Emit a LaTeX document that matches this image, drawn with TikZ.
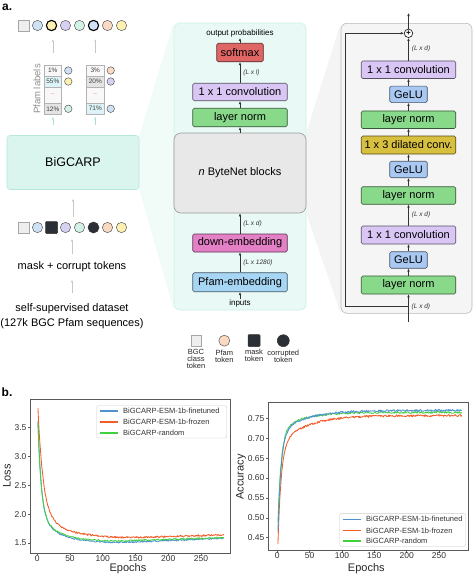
\documentclass[tikz,border=0pt]{standalone}
\usepackage{fontspec}
\setmainfont{Liberation Sans}
\usepackage{xcolor}
\usepackage{tikz}
\usetikzlibrary{arrows.meta,positioning,backgrounds}

\definecolor{panelmint}{HTML}{E9F9F5}
\definecolor{panelmintline}{HTML}{CDEFE6}
\definecolor{funnelmint}{HTML}{F1FBF8}
\definecolor{bigcfill}{HTML}{D9F5EE}
\definecolor{bigcline}{HTML}{B6E9DB}
\definecolor{netgray}{HTML}{E8E8E8}
\definecolor{panelgray}{HTML}{F5F5F5}
\definecolor{funnelgray}{HTML}{F4F4F4}
\definecolor{softred}{HTML}{E06666}
\definecolor{convlav}{HTML}{D9C6F5}
\definecolor{normgreen}{HTML}{88D98A}
\definecolor{gelublue}{HTML}{A9C8F2}
\definecolor{dilmust}{HTML}{D7BF3F}
\definecolor{downpink}{HTML}{E380C6}
\definecolor{embblue}{HTML}{A7D6F5}
\definecolor{tokgray}{HTML}{EEEEEE}
\definecolor{tokblue}{HTML}{CFE2F5}
\definecolor{tokyel}{HTML}{FDF0B0}
\definecolor{tokpur}{HTML}{D8D0F2}
\definecolor{tokgrn}{HTML}{D2F1E7}
\definecolor{tokpch}{HTML}{FAD9C3}
\definecolor{tokdark}{HTML}{2B2F36}
\definecolor{cellcyan}{HTML}{DCF4F8}
\definecolor{cellgray}{HTML}{E4E4E4}
\definecolor{cellwhite}{HTML}{F8F8F8}
\definecolor{mintarrow}{HTML}{A6DFCF}
\definecolor{finecol}{HTML}{4F92CF}
\definecolor{frozcol}{HTML}{F25C29}
\definecolor{randcol}{HTML}{40D040}

\begin{document}
\begin{tikzpicture}[
    x=1pt, y=-1pt,
    blk/.style={draw=#1!40!black, fill=#1, rounded corners=1.5pt, inner sep=0pt, line width=0.6pt, font=\fontsize{11}{12}\selectfont},
    wide/.style={blk=#1, minimum width=94.5pt, minimum height=17.5pt},
    gelu/.style={blk=gelublue, minimum width=37.5pt, minimum height=16.5pt},
    arrow/.style={-{Latex[length=3pt,width=2.6pt]}, draw=black!80, line width=0.7pt},
    dim/.style={right, xshift=3pt, inner sep=0pt, font=\fontsize{6.5}{7}\selectfont\itshape, text=black!80},
    tok/.style={circle, draw=black!65, fill=#1, minimum size=10.3pt, inner sep=0pt, line width=0.5pt},
    boldtok/.style={draw=black, line width=1.1pt},
    sqtok/.style={draw=black!35, fill=#1, minimum size=10.5pt, inner sep=0pt, line width=0.5pt},
    lbltok/.style={tok=#1, minimum size=7.5pt},
    lblcell/.style={draw=black!30, fill=#1, minimum width=17.7pt, inner sep=0pt, line width=0.5pt, font=\fontsize{6.5}{7}\selectfont, text=black!75},
    garrow/.style={-{Latex[length=2.5pt,width=2.2pt]}, draw=black!22, line width=0.5pt},
    marrow/.style={garrow, draw=mintarrow},
    txt/.style={inner sep=1pt, font=\fontsize{11}{15}\selectfont, align=center},
    smalltxt/.style={inner sep=1pt, font=\fontsize{8}{9}\selectfont},
    keytxt/.style={inner sep=0pt, align=center, font=\fontsize{7.5}{7}\selectfont, text=black!85},
    axbox/.style={draw=black!65, line width=0.6pt, inner sep=0pt},
    axtick/.style={draw=black!65, line width=0.5pt},
    ticklbl/.style={inner sep=1pt, font=\fontsize{8.5}{9}\selectfont, text=black!80},
    axlbl/.style={inner sep=0pt, font=\fontsize{11}{12}\selectfont, text=black!85},
    legbox/.style={draw=black!20, fill=white, rounded corners=2pt, inner sep=0pt},
    legtxt/.style={anchor=west, inner sep=0pt, font=\fontsize{7.5}{8}\selectfont, text=black!80},
    trace/.style={draw=#1, line width=0.85pt, line join=round},
    legline/.style={draw=#1, line width=1.3pt},
    panel/.style={font=\bfseries\fontsize{12}{14}\selectfont, inner sep=0pt, anchor=north west}
]
\useasboundingbox (0,0) rectangle (474,576);
\pgfmathsetseed{7}

\node[panel] (pa) at (2,3.5) {a.};
\node[panel] (pb) at (1.5,388) {b.};

% --- BiGCARP overview ---
\node[sqtok=tokgray] (a0) at (23.5,25.5) {};
\node[tok=tokblue] (a1) at (37.5,25.5) {};
\node[tok=tokyel, boldtok] (a2) at (51.5,25.5) {};
\node[tok=tokpur] (a3) at (65.5,25.5) {};
\node[tok=tokgrn] (a4) at (79.5,25.5) {};
\node[tok=tokblue, boldtok] (a5) at (93.5,25.5) {};
\node[tok=tokpch] (a6) at (107.5,25.5) {};
\node[tok=tokyel] (a7) at (121.5,25.5) {};

\node[rotate=90, inner sep=0pt, text=black!45, font=\fontsize{9.5}{10}\selectfont] (plab) at (37,89) {Pfam labels};

\node[lblcell=cellwhite, minimum height=11pt] (l1) at (52.8,70.5) {1\%};
\node[lblcell=cellcyan, minimum height=11pt] (l2) at (52.8,81.5) {55\%};
\node[lblcell=cellwhite, minimum height=16pt, text=red!45] (l3) at (52.8,95) {--};
\node[lblcell=cellgray, minimum height=11.5pt] (l4) at (52.8,108.75) {12\%};
\node[lblcell=cellwhite, minimum height=11pt] (r1) at (95.3,70.5) {3\%};
\node[lblcell=cellgray, minimum height=11pt] (r2) at (95.3,81.5) {20\%};
\node[lblcell=cellwhite, minimum height=16pt, text=red!45] (r3) at (95.3,95) {--};
\node[lblcell=cellcyan, minimum height=11.5pt] (r4) at (95.3,108.75) {71\%};

\node[lbltok=tokblue] (lc1) at (68.3,70.5) {};
\node[lbltok=tokyel] (lc2) at (68.3,81.5) {};
\node[lbltok=tokgrn] (lc4) at (68.3,108.75) {};
\node[lbltok=tokpch] (rc1) at (110.7,70.5) {};
\node[lbltok=tokpur] (rc2) at (110.7,81.5) {};
\node[lbltok=tokblue] (rc4) at (110.7,108.75) {};

\node[draw=bigcline, fill=bigcfill, rounded corners=3pt, line width=0.6pt, minimum width=132pt, minimum height=54pt, font=\fontsize{12.5}{14}\selectfont] (bigc) at (73,162.5) {BiGCARP};

\node[sqtok=tokgray] (b0) at (23.5,227.5) {};
\node[tok=tokblue] (b1) at (37.5,227.5) {};
\node[sqtok=tokdark, draw=black!80, minimum size=12pt, rounded corners=1pt] (b2) at (51.5,227.5) {};
\node[tok=tokpur] (b3) at (65.5,227.5) {};
\node[tok=tokgrn] (b4) at (79.5,227.5) {};
\node[tok=tokdark, draw=black!80, minimum size=11pt] (b5) at (93.5,227.5) {};
\node[tok=tokpch] (b6) at (107.5,227.5) {};
\node[tok=tokyel] (b7) at (121.5,227.5) {};

\node[txt] (mask) at (72,266.5) {mask + corrupt tokens};
\node[txt] (data) at (72,316) {self-supervised dataset\\(127k BGC Pfam sequences)};

\draw[garrow, shorten <=9pt, shorten >=7pt] (data) -- (mask);
\draw[garrow, shorten <=6pt, shorten >=6pt] (mask) -- (mask |- b0.south);
\draw[garrow, shorten <=5pt, shorten >=9pt] (bigc |- b0.north) -- (bigc);
\draw[marrow, shorten <=10pt, shorten >=2pt] (l4 |- bigc.north) -- (l4);
\draw[marrow, shorten <=10pt, shorten >=2pt] (r4 |- bigc.north) -- (r4);
\draw[garrow, shorten <=12pt, shorten >=8pt] (l1) -- (l1 |- a2.south);
\draw[garrow, shorten <=12pt, shorten >=8pt] (r1) -- (r1 |- a5.south);

% --- BiGCARP model ---
\node[draw=panelmintline, fill=panelmint, rounded corners=6pt, line width=0.6pt, minimum width=132pt, minimum height=287pt, inner sep=0pt] (mid) at (240,166.5) {};
\node[draw=black!40, fill=netgray, rounded corners=7pt, line width=0.6pt, minimum width=132pt, minimum height=80pt, inner sep=0pt, font=\fontsize{11}{12}\selectfont] (bnet) at (240,173) {\textit{n} ByteNet blocks};

\node[smalltxt] (outp) at (240,33) {output probabilities};
\node[blk=softred, minimum width=46.5pt, minimum height=18.5pt] (soft) at (240,52.5) {softmax};
\node[wide=convlav] (conv) at (240,92) {1 x 1 convolution};
\node[wide=normgreen, minimum height=18.5pt] (lnorm) at (240,117.5) {layer norm};
\node[wide=downpink, minimum height=18pt] (down) at (240,243) {down-embedding};
\node[wide=embblue, minimum height=19pt] (pemb) at (240,282.2) {Pfam-embedding};
\node[smalltxt] (inp) at (240,303.5) {inputs};

\draw[arrow] (inp) -- (pemb);
\draw[arrow] (pemb) -- node[dim] (dm1) {(L x 1280)} (down);
\draw[arrow] (down) -- node[dim] (dm2) {(L x d)} (bnet);
\draw[arrow] (bnet) -- (lnorm);
\draw[arrow] (lnorm) -- (conv);
\draw[arrow] (conv) -- node[dim] (dm3) {(L x l)} (soft);
\draw[arrow] (soft) -- (outp);

% --- ByteNet block ---
\node[draw=black!28, fill=panelgray, rounded corners=6pt, line width=0.6pt, minimum width=131pt, minimum height=290pt, inner sep=0pt] (rp) at (406.5,168.3) {};

\begin{pgfonlayer}{background}
\fill[funnelmint] (bigc.north east) -- (mid.north west) -- (mid.south west) -- (bigc.south east) -- cycle;
\fill[funnelgray] (bnet.north east) -- (rp.north west) -- (rp.south west) -- (bnet.south east) -- cycle;
\end{pgfonlayer}

\node[circle, draw=black!85, fill=white, line width=0.7pt, minimum size=8.5pt, inner sep=0pt, font=\bfseries\fontsize{8}{8}\selectfont] (plus) at (408.5,33.3) {+};
\node[wide=convlav] (c1) at (408.5,69.7) {1 x 1 convolution};
\node[gelu] (g1) at (408.5,94.3) {GeLU};
\node[wide=normgreen] (n1) at (408.5,119.7) {layer norm};
\node[wide=dilmust, minimum height=18pt] (d1) at (408.5,145) {1 x 3 dilated conv.};
\node[gelu] (g2) at (408.5,169.5) {GeLU};
\node[wide=normgreen] (n2) at (408.5,195.5) {layer norm};
\node[wide=convlav, minimum height=18pt] (c2) at (408.5,235) {1 x 1 convolution};
\node[gelu] (g3) at (408.5,260) {GeLU};
\node[wide=normgreen, minimum height=18pt] (n3) at (408.5,285) {layer norm};

\coordinate (rin) at (408.5,322);
\coordinate (split) at (408.5,306.7);
\coordinate (rleft) at (345,306.7);
\coordinate (rout) at (408.5,13);

\draw[arrow] (rin) -- (n3);
\node[dim] (dm4) at (split) {(L x d)};
\draw[arrow] (split) -- (rleft) |- (plus);
\draw[arrow] (n3) -- (g3);
\draw[arrow] (g3) -- (c2);
\draw[arrow] (c2) -- node[dim] (dm5) {(L x d)} (n2);
\draw[arrow] (n2) -- (g2);
\draw[arrow] (g2) -- (d1);
\draw[arrow] (d1) -- (n1);
\draw[arrow] (n1) -- (g1);
\draw[arrow] (g1) -- (c1);
\draw[arrow] (c1) -- node[dim] (dm6) {(L x d)} (plus);
\draw[arrow] (plus) -- (rout);

% --- token legend ---
\node[sqtok=tokgray] (kbgc) at (196,340.5) {};
\node[tok=tokpch, minimum size=11pt] (kpfam) at (224.3,340.7) {};
\node[sqtok=tokdark, draw=black!80, minimum size=12pt, rounded corners=1pt] (kmask) at (254,340.5) {};
\node[tok=tokdark, draw=black!80, minimum size=12pt] (kcor) at (283.3,340.7) {};
\node[keytxt, below=3pt of kbgc] (kbgct) {BGC\\class\\token};
\node[keytxt, below=3pt of kpfam] (kpfamt) {Pfam\\token};
\node[keytxt, below=2.5pt of kmask] (kmaskt) {mask\\token};
\node[keytxt, below=2.5pt of kcor] (kcort) {corrupted\\token};

% --- loss curves ---
\node[axbox, minimum width=199.3pt, minimum height=154.3pt] (lossax) at (130.35,476.15) {};
\foreach \py/\t [count=\i] in {543/1.5, 514.2/2.0, 485.4/2.5, 456.5/3.0, 427.7/3.5}
  \draw[axtick] (30.7,\py) -- (27.7,\py) node[ticklbl, left] (ly\i) {\t};
\foreach \px/\t [count=\i] in {37.3/0, 70/50, 102.7/100, 135.5/150, 168.2/200, 201/250}
  \draw[axtick] (\px,553.3) -- (\px,555.3) node[ticklbl, below, inner sep=0pt] (lx\i) {\t};
\node[axlbl] (lossx) at (128,569) {Epochs};
\node[axlbl, rotate=90] (lossy) at (7,476) {Loss};

\begin{scope}[xshift=37.3pt, yshift=-543pt, x=0.6548pt, y=57.65pt]
\draw[trace=finecol] plot[domain=1:285, samples=285] (\x, {2.0*exp(-\x/5)+0.5*exp(-\x/30)+0.0005*max(\x-120,0)+0.012*rand});
\draw[trace=frozcol] plot[domain=1:285, samples=285] (\x, {0.08+2.05*exp(-\x/8)+0.45*exp(-\x/40)+0.0004*max(\x-130,0)+0.015*rand});
\draw[trace=randcol] plot[domain=1:285, samples=285] (\x, {0.03+1.9*exp(-\x/5)+0.5*exp(-\x/28)+0.0004*max(\x-120,0)+0.012*rand});
\end{scope}

\node[legbox, minimum width=130pt, minimum height=32.3pt] (lleg) at (161.7,421.85) {};
\draw[legline=finecol] (100,411) -- (118,411);
\draw[legline=frozcol] (100,422) -- (118,422);
\draw[legline=randcol] (100,433) -- (118,433);
\node[legtxt] (lk1) at (123,411) {BiGCARP-ESM-1b-finetuned};
\node[legtxt] (lk2) at (123,422) {BiGCARP-ESM-1b-frozen};
\node[legtxt] (lk3) at (123,433) {BiGCARP-random};

% --- accuracy curves ---
\node[axbox, minimum width=199.3pt, minimum height=148.4pt] (accax) at (368.35,476.5) {};
\foreach \py/\t [count=\i] in {537.7/0.45, 517.8/0.50, 497.9/0.55, 478/0.60, 458.1/0.65, 438.2/0.70, 418.3/0.75}
  \draw[axtick] (268.7,\py) -- (265.7,\py) node[ticklbl, left] (ay\i) {\t};
\foreach \px/\t [count=\i] in {277.3/0, 309.6/50, 342/100, 374.3/150, 406.7/200, 439/250}
  \draw[axtick] (\px,550.7) -- (\px,552.7) node[ticklbl, below, inner sep=0pt] (ax\i) {\t};
\node[axlbl] (accx) at (366.3,569) {Epochs};
\node[axlbl, rotate=90] (accy) at (241,477) {Accuracy};

\begin{scope}[xshift=277.3pt, yshift=-537.7pt, x=0.6468pt, y=398pt]
\draw[trace=frozcol] plot[domain=1:285, samples=285] (\x, {0.307-0.3*exp(-\x/5)-0.08*exp(-\x/40)+0.0025*rand});
\draw[trace=randcol] plot[domain=1:285, samples=285] (\x, {0.315-0.28*exp(-\x/5)-0.05*exp(-\x/35)+0.0025*rand});
\draw[trace=finecol] plot[domain=1:285, samples=285] (\x, {0.32-0.3*exp(-\x/5)-0.06*exp(-\x/40)+0.0025*rand});
\end{scope}

\node[legbox, minimum width=125.8pt, minimum height=33.2pt] (aleg) at (402.6,529.9) {};
\draw[legline=finecol] (343,519.3) -- (361,519.3);
\draw[legline=frozcol] (343,530.5) -- (361,530.5);
\draw[legline=randcol] (343,541) -- (361,541);
\node[legtxt] (ak1) at (366,519.3) {BiGCARP-ESM-1b-finetuned};
\node[legtxt] (ak2) at (366,530.5) {BiGCARP-ESM-1b-frozen};
\node[legtxt] (ak3) at (366,541) {BiGCARP-random};

\end{tikzpicture}
\end{document}
